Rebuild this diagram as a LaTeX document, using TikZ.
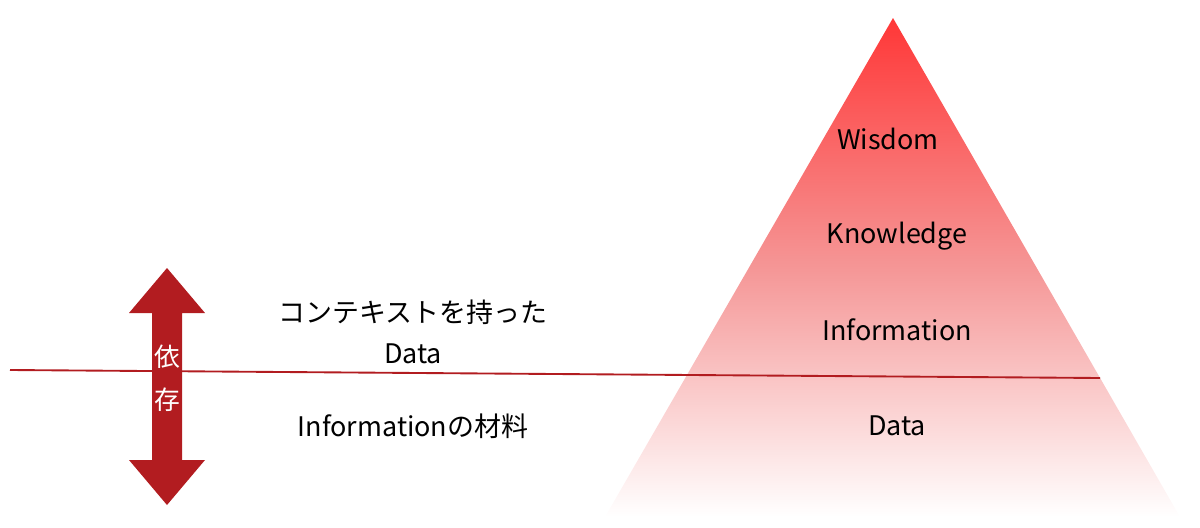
\documentclass[tikz,border=0pt]{standalone}
\usepackage{fontspec}
\setmainfont{Noto Sans CJK JP}
\definecolor{dred}{RGB}{178,28,32}
\definecolor{tred}{RGB}{255,55,55}
\begin{document}
\begin{tikzpicture}[x=0.03cm,y=-0.03cm,
  lbl/.style={font=\fontsize{23}{27}\selectfont,text=black,inner sep=0pt},
  vlbl/.style={font=\fontsize{22}{26}\selectfont,text=white,inner sep=0pt}]
\useasboundingbox (0,0) rectangle (1200,527);
\begin{scope}
\clip (893,18) -- (1180,517) -- (605,517) -- cycle;
\shade[top color=tred, bottom color=white, middle color={rgb,255:red,245;green,150;blue,150}] (600,18) rectangle (1185,517);
\end{scope}
\coordinate (L) at (10,370);
\coordinate (R) at (1100,378);
\draw[dred,line width=1.6pt] (L) -- (R);
\fill[dred] (167,268) -- (205,313) -- (182,313) -- (182,460) -- (205,460) -- (167,505) -- (129,460) -- (152,460) -- (152,313) -- (129,313) -- cycle;
\node[vlbl] (d1) at (167,357) {依};
\node[vlbl] (d2) at (167,400) {存};
\node[lbl] (w) at (888,139) {Wisdom};
\node[lbl] (k) at (897,236) {Knowledge};
\node[lbl] (i) at (897,330) {Information};
\node[lbl] (d) at (897,426) {Data};
\node[lbl] (c1) at (413,312) {コンテキストを持った};
\node[lbl] (c2) at (413,354) {Data};
\node[lbl] (c3) at (413,426) {Informationの材料};
\end{tikzpicture}
\end{document}
